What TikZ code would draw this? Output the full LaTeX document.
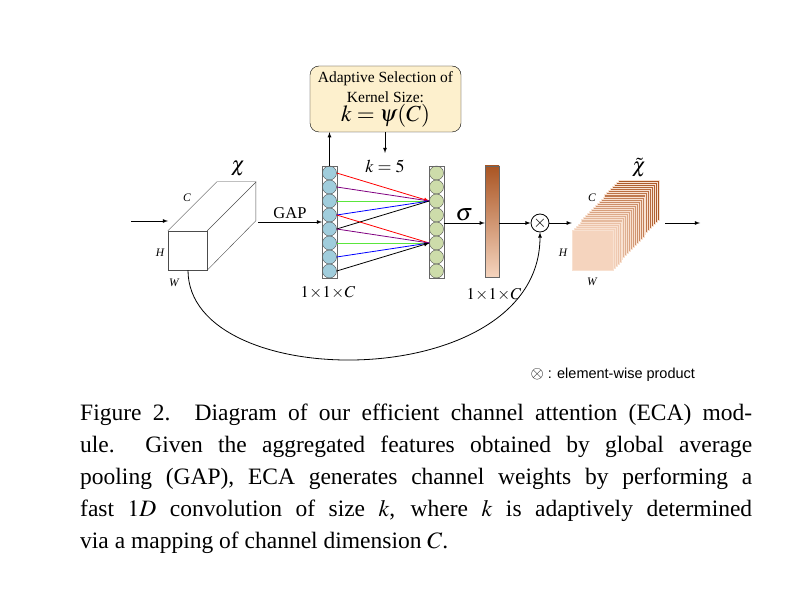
\documentclass[tikz,border=0pt]{standalone}
\usepackage{mathptmx}
\usepackage{fontspec}
\setmainfont{Liberation Serif}
\setsansfont{Liberation Sans}
\usetikzlibrary{positioning}
\definecolor{cellblue}{RGB}{160,205,220}
\definecolor{cellgreen}{RGB}{205,220,170}
\definecolor{boxyellow}{RGB}{253,240,205}
\definecolor{dark}{RGB}{170,85,35}
\definecolor{light}{RGB}{245,212,190}
\definecolor{lgreen}{RGB}{90,230,60}
\begin{document}
\begin{tikzpicture}[x=1pt,y=-1pt]
  \tikzset{
    cell/.style={
      circle,
      draw=black!70,
      line width=0.4pt,
      minimum size=14pt,
      inner sep=0pt
    },
    flow/.style={-latex, line width=0.8pt},
    link/.style={line width=0.8pt},
    lbl/.style={font=\fontsize{16.5}{16.5}\selectfont},
    dim/.style={font=\fontsize{11.5}{11.5}\selectfont\itshape}
  }
  \useasboundingbox (0,0) rectangle (795,596);

  % input tensor
  \node[draw=black!70, minimum width=39pt, minimum height=39pt, inner sep=0pt] (xin) at (187.5,250.5) {};
  \draw[black!70] (xin.north west) -- ++(49,-49) -- ++(39,0) -- ++(0,39) -- (xin.south east);
  \draw[black!70] (xin.north east) -- ++(49,-49);
  \coordinate (in) at (131,221);
  \coordinate (inend) at (168,221);
  \coordinate (gapstart) at (258,222);
  \draw[flow] (in) -- (inend);
  \node[font=\fontsize{21}{21}\selectfont] (chi) at (238,169) {$\chi$};
  \node[dim] (cin) at (187,198) {C};
  \node[dim] (hin) at (160,253) {H};
  \node[dim] (win) at (174,283) {W};

  % pooled vector and conv output
  \foreach \i in {0,...,7} {
    \node[cell, fill=cellblue] (blue\i) at (329.5,173+14*\i) {};
    \node[cell, fill=cellgreen] (green\i) at (436.5,173+14*\i) {};
  }
  \draw[black!60] (322,166) rectangle (337,278);
  \draw[black!60] (429,166) rectangle (444,278);
  \draw[flow] (gapstart) -- node[lbl, above] {GAP} (322,222);
  \node[lbl] (dim1) at (328,293) {$1\!\times\!1\!\times\!C$};

  % kernel selection box
  \node[draw, rounded corners=9pt, fill=boxyellow, minimum width=151pt, minimum height=66pt,
        align=center, font=\fontsize{15.5}{20}\selectfont] (sel) at (385.5,99)
        {Adaptive Selection of\\Kernel Size:\\[-1pt]{\fontsize{23}{23}\selectfont$k=\psi(C)$}};
  \draw[flow] (blue0.north) -- (blue0.north |- sel.south);
  \coordinate (kend) at (385,153);
  \draw[flow] (sel.south -| kend) -- (kend);
  \node[font=\fontsize{18}{18}\selectfont] (k5) at (385,166) {$k=5$};

  % 1D convolution
  \draw[link, red, -latex] (blue0.east) -- (green2.west);
  \draw[link, violet] (blue1.east) -- (green2.west);
  \draw[link, lgreen] (blue2.east) -- (green2.west);
  \draw[link, blue] (blue3.east) -- (green2.west);
  \draw[link, black] (blue4.east) -- (green2.west);
  \draw[link, red] (blue3.east) -- (green5.west);
  \draw[link, violet] (blue4.east) -- (green5.west);
  \draw[link, lgreen] (blue5.east) -- (green5.west);
  \draw[link, blue] (blue6.east) -- (green5.west);
  \draw[link, black, -latex] (blue7.east) -- (green5.west);

  % weights
  \node[draw=black!60, minimum width=14pt, minimum height=111pt, inner sep=0pt] (bar) at (492,221.5) {};
  \shade[top color=dark, middle color=dark!85!light, bottom color=light] (485,166) rectangle (499,277);
  \draw[black!60] (485,166) rectangle (499,277);
  \draw[flow] (green3.east |- 0,223) -- node[above=-2pt, font=\fontsize{24}{24}\selectfont] {$\sigma$} (bar.west |- 0,223);
  \node[lbl] (dim2) at (494,295) {$1\!\times\!1\!\times\!C$};
  \node[draw, circle, line width=0.8pt, minimum size=18pt, inner sep=0pt, font=\fontsize{17}{17}\selectfont\bfseries] (mul) at (540,223) {$\times$};
  \draw[flow] (bar.east |- mul) -- (mul);

  % output tensor
  \foreach \i in {24,...,0} {
    \pgfmathsetmacro{\pct}{100*\i/24}
    \fill[dark!\pct!light, draw=light!70!white, line width=0.25pt]
      (572+46*\i/24,230-50*\i/24) rectangle ++(41,40);
  }
  \node[minimum width=41pt, minimum height=40pt, inner sep=0pt] (xout) at (592.5,250) {};
  \coordinate (outend) at (700,223);
  \draw[flow] (mul) -- (xout.west |- mul);
  \draw[flow] (665,223) -- (outend);
  \node[font=\fontsize{21}{21}\selectfont] (chit) at (639,168) {$\tilde{\chi}$};
  \node[dim] (cout) at (592,198) {C};
  \node[dim] (hout) at (563,253) {H};
  \node[dim] (wout) at (592,282) {W};

  % skip connection
  \draw[-latex, line width=0.8pt] ([xshift=0.5pt]xin.south) .. controls (188,395) and (540,395) .. (mul.south);

  \node[font=\sffamily\fontsize{14.5}{14.5}\selectfont, anchor=west] (legend) at (527,375) {{\fontsize{17}{17}\selectfont$\otimes$} : element-wise product};

  % caption
  \node[anchor=north west, inner sep=0pt, text width=672pt, align=justify,
        font=\fontsize{23.5}{32}\selectfont] (cap) at (80,404)
    {Figure 2. Diagram of our efficient channel attention (ECA) mod-\linebreak ule.\ \ Given the aggregated features obtained by global average\linebreak pooling (GAP), ECA generates channel weights by performing a\linebreak fast $1D$ convolution of size $k$, where $k$ is adaptively determined\linebreak via a mapping of channel dimension $C$.};
\end{tikzpicture}
\end{document}
